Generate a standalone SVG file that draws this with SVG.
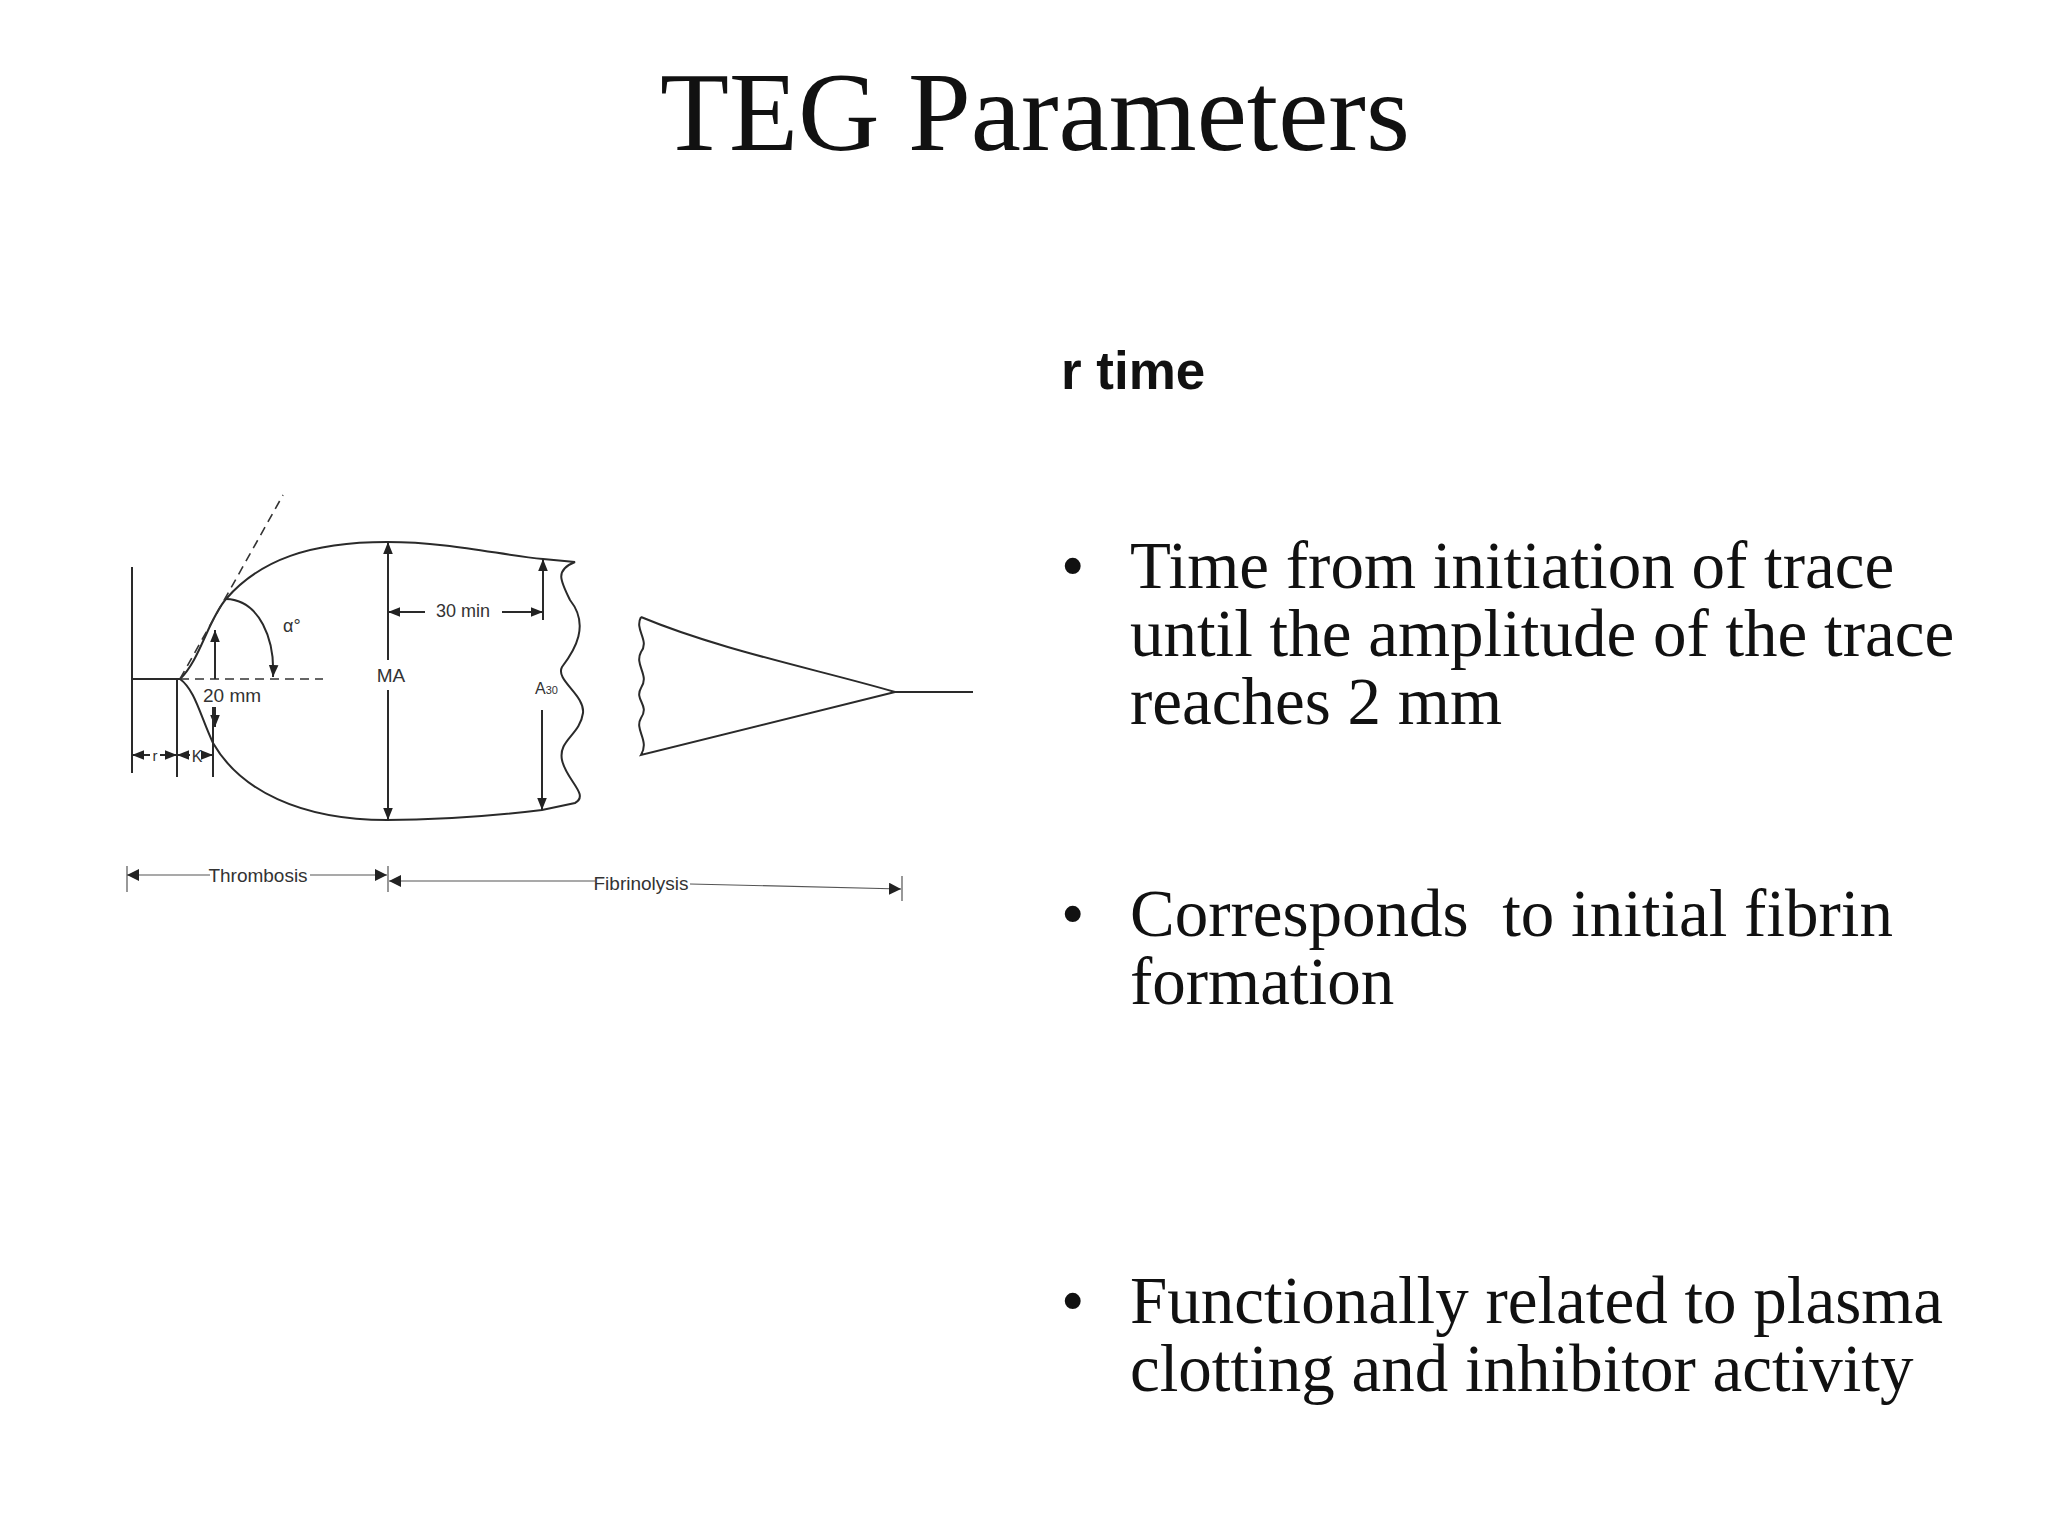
<svg xmlns="http://www.w3.org/2000/svg" width="2048" height="1535" viewBox="0 0 2048 1535">
<style>
.t{font-family:"Liberation Serif",serif;fill:#111;white-space:pre}
.s{font-family:"Liberation Sans",Arial,sans-serif;fill:#333}
.ln{fill:none;stroke:#2a2a2a;stroke-width:2}
.th{fill:none;stroke:#555;stroke-width:1.2}
.d{fill:none;stroke:#333;stroke-width:1.6;stroke-dasharray:9 6}
</style>
<defs>
<marker id="a" viewBox="0 0 10 10" refX="10" refY="5" markerWidth="6" markerHeight="6" orient="auto-start-reverse"><path d="M0,1L10,5L0,9z" fill="#222"/></marker>
<marker id="b" viewBox="0 0 10 10" refX="10" refY="5" markerWidth="10" markerHeight="10" orient="auto-start-reverse"><path d="M0,0L10,5L0,10z" fill="#222"/></marker>
</defs>
<rect width="2048" height="1535" fill="#fff"/>
<text class="t" x="1035" y="150" font-size="113" text-anchor="middle">TEG Parameters</text>
<text x="1061" y="389" font-size="53" font-weight="bold" font-family="Liberation Sans,Arial,sans-serif" fill="#111">r time</text>
<g class="t" font-size="67">
<text x="1061" y="588">•</text>
<text x="1130" y="588">Time from initiation of trace</text>
<text x="1130" y="656">until the amplitude of the trace</text>
<text x="1130" y="724">reaches 2 mm</text>
<text x="1061" y="936">•</text>
<text x="1130" y="936" xml:space="preserve">Corresponds  to initial fibrin</text>
<text x="1130" y="1004">formation</text>
<text x="1061" y="1323">•</text>
<text x="1130" y="1323">Functionally related to plasma</text>
<text x="1130" y="1391">clotting and inhibitor activity</text>
</g>
<g id="trace">
<path class="ln" d="M132,567V773M132,679H180"/>
<path class="ln" d="M180,679C200,660 208,620 226,599C260,560 310,542 387,542C450,542 500,555 543,559L575,562C555,570 560,580 570,600C590,625 575,650 562,667C555,680 585,695 583,713C580,735 558,740 562,760C566,780 590,795 575,803L542,810C500,815 450,820 387,820C300,820 240,790 213,743C200,715 195,690 180,679Z"/>
<path class="d" d="M180,679H323M180,679L283,495"/>
<path class="ln" d="M226,599C260,600 275,640 273,677" marker-end="url(#a)"/>
<path class="ln" d="M641,617C720,650 820,670 895,692H973M895,692L641,755C650,740 634,730 641,718C650,705 634,700 641,688C650,675 634,665 641,652C650,640 634,630 641,617"/>
</g>
<g id="dims" class="ln" stroke-width="1.6">
<path d="M215,679V630" marker-end="url(#a)"/>
<path d="M215,707V727" marker-end="url(#a)"/>
<path d="M177,680V777M213,707V777"/>
<path d="M150,755H132" marker-end="url(#a)"/>
<path d="M160,755H177" marker-end="url(#a)"/>
<path d="M190,755H177" marker-end="url(#a)"/>
<path d="M204,755H213" marker-end="url(#a)"/>
<path d="M388,660V542" marker-end="url(#a)"/>
<path d="M388,690V820" marker-end="url(#a)"/>
<path d="M543,620V559" marker-end="url(#a)"/>
<path d="M542,710V810" marker-end="url(#a)"/>
<path d="M425,612H388" marker-end="url(#a)"/>
<path d="M502,612H543" marker-end="url(#a)"/>
</g>
<g id="labels" class="s">
<text x="283" y="632" font-size="18">α°</text>
<text x="203" y="702" font-size="19">20 mm</text>
<text x="155" y="761" font-size="15" text-anchor="middle">r</text>
<text x="197" y="762" font-size="16" text-anchor="middle">K</text>
<text x="391" y="682" font-size="19" text-anchor="middle">MA</text>
<text x="535" y="694" font-size="16">A<tspan font-size="11">30</tspan></text>
<text x="463" y="617" font-size="18" text-anchor="middle">30 min</text>
<text x="258" y="882" font-size="19" text-anchor="middle">Thrombosis</text>
<text x="641" y="890" font-size="19" text-anchor="middle">Fibrinolysis</text>
</g>
<g id="span" class="th">
<path d="M127,866V892M388,866V892M902,876V901"/>
<path d="M210,875H127" marker-end="url(#b)"/>
<path d="M310,875H387" marker-end="url(#b)"/>
<path d="M595,881H389" marker-end="url(#b)"/>
<path d="M690,884L901,889" marker-end="url(#b)"/>
</g>
</svg>
